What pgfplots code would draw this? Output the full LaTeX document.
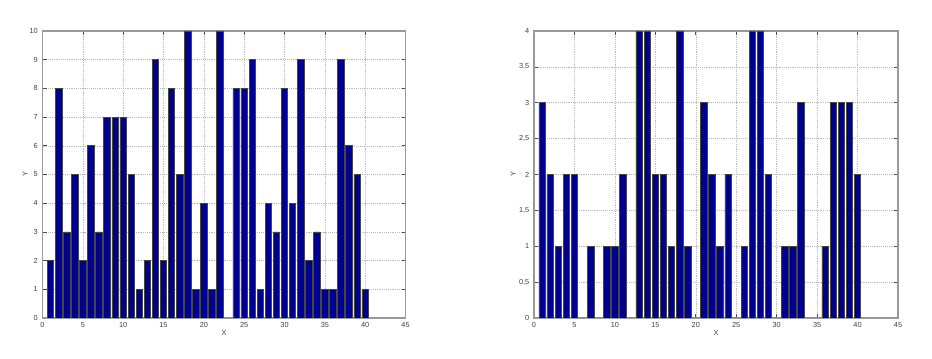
\documentclass[border=0pt]{standalone}
\usepackage{fontspec}
\setmainfont{Liberation Sans}
\usepackage{pgfplots}
\pgfplotsset{compat=1.18}
\definecolor{barblue}{RGB}{0,0,143}
\definecolor{edgegray}{RGB}{70,70,70}
\begin{document}
\begin{tikzpicture}
\path[use as bounding box] (0pt,0pt) rectangle (699pt,269.25pt);
\pgfplotsset{
  mystyle/.style={
    anchor=south west,
    scale only axis,
    ybar,
    bar width=0.8,
    bar shift=0pt,
    xmin=0, xmax=45,
    xtick={0,5,...,45},
    grid=major,
    major grid style={densely dotted, gray!55, line width=0.4pt},
    axis line style={gray!80, line width=0.8pt},
    tick style={black!70, line width=0.5pt},
    major tick length=3pt,
    tick align=inside,
    tick label style={font=\fontsize{5.5}{6}\selectfont, text=black!75},
    label style={font=\fontsize{5.5}{6}\selectfont, text=black!75},
    /pgf/number format/assume math mode=true,
    xlabel={X},
    ylabel={Y},
    xlabel style={at={(axis description cs:0.5,0)}, anchor=center, yshift=-11.2pt},
  }
}
\begin{axis}[mystyle,
  at={(31.875pt,30.75pt)}, width=272.25pt, height=215.25pt,
  ymin=0, ymax=10, ytick={0,1,...,10},
  ylabel style={at={(axis description cs:0,0.5)}, anchor=center, yshift=13pt},
]
\addplot[fill=barblue, draw=edgegray, line width=0.5pt] coordinates {
(1,2) (2,8) (3,3) (4,5) (5,2) (6,6) (7,3) (8,7) (9,7) (10,7)
(11,5) (12,1) (13,2) (14,9) (15,2) (16,8) (17,5) (18,10) (19,1) (20,4)
(21,1) (22,10) (23,0) (24,8) (25,8) (26,9) (27,1) (28,4) (29,3) (30,8)
(31,4) (32,9) (33,2) (34,3) (35,1) (36,1) (37,9) (38,6) (39,5) (40,1)
};
\end{axis}
\begin{axis}[mystyle,
  at={(400.5pt,30.75pt)}, width=273pt, height=215.25pt,
  ymin=0, ymax=4, ytick={0,0.5,...,4},
  yticklabel style={/pgf/number format/.cd, use comma, fixed},
  ylabel style={at={(axis description cs:0,0.5)}, anchor=center, yshift=15.75pt},
]
\addplot[fill=barblue, draw=edgegray, line width=0.5pt] coordinates {
(1,3) (2,2) (3,1) (4,2) (5,2) (6,0) (7,1) (8,0) (9,1) (10,1)
(11,2) (12,0) (13,4) (14,4) (15,2) (16,2) (17,1) (18,4) (19,1) (20,0)
(21,3) (22,2) (23,1) (24,2) (25,0) (26,1) (27,4) (28,4) (29,2) (30,0)
(31,1) (32,1) (33,3) (34,0) (35,0) (36,1) (37,3) (38,3) (39,3) (40,2)
};
\end{axis}
\end{tikzpicture}
\end{document}
